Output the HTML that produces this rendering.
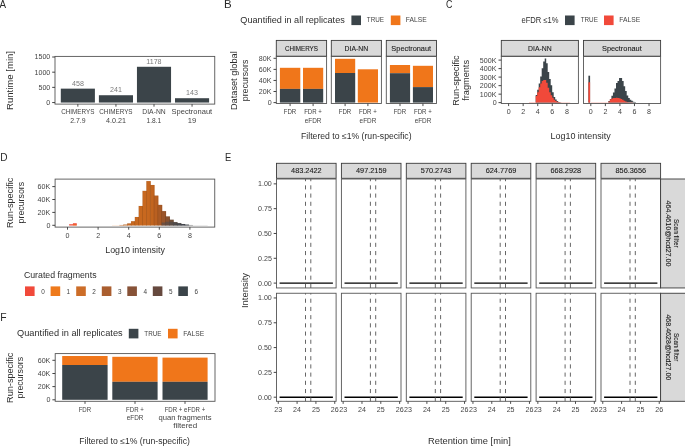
<!DOCTYPE html>
<html><head><meta charset="utf-8"><title>Figure</title>
<style>
html,body{margin:0;padding:0;background:#fff;width:685px;height:446px;overflow:hidden}
svg{display:block}
text{font-family:'Liberation Sans', Arial, sans-serif}
</style></head><body>
<svg width="685" height="446" viewBox="0 0 685 446">
<rect x="0" y="0" width="685" height="446" fill="#ffffff"/>
<text transform="translate(-0.52,7.80) scale(0.853,1)" font-size="11.5" fill="#2a2a2a">A</text>
<rect x="60.80" y="88.64" width="34.10" height="13.91" fill="#3b4449" />
<text transform="translate(72.02,85.88) scale(1.000,1)" font-size="7.1" fill="#7a7a7a" >458</text>
<rect x="98.90" y="95.23" width="34.10" height="7.32" fill="#3b4449" />
<text transform="translate(110.05,92.47) scale(1.000,1)" font-size="7.1" fill="#7a7a7a" >241</text>
<rect x="136.95" y="66.78" width="34.10" height="35.77" fill="#3b4449" />
<text transform="translate(146.28,64.02) scale(1.000,1)" font-size="7.1" fill="#7a7a7a" >1178</text>
<rect x="175.00" y="98.21" width="34.10" height="4.34" fill="#3b4449" />
<text transform="translate(186.03,95.45) scale(1.000,1)" font-size="7.1" fill="#7a7a7a" >143</text>
<rect x="55.00" y="56.40" width="159.75" height="47.70" fill="none" stroke="#555555" stroke-width="0.9" />
<line x1="52.20" y1="102.55" x2="55.00" y2="102.55" stroke="#3a3a3a" stroke-width="0.95" />
<text transform="translate(46.35,104.99) scale(1.000,1)" font-size="7.1" fill="#444444" >0</text>
<line x1="52.20" y1="87.37" x2="55.00" y2="87.37" stroke="#3a3a3a" stroke-width="0.95" />
<text transform="translate(38.45,89.81) scale(1.000,1)" font-size="7.1" fill="#444444" >500</text>
<line x1="52.20" y1="72.18" x2="55.00" y2="72.18" stroke="#3a3a3a" stroke-width="0.95" />
<text transform="translate(34.50,74.63) scale(1.000,1)" font-size="7.1" fill="#444444" >1000</text>
<line x1="52.20" y1="57.00" x2="55.00" y2="57.00" stroke="#3a3a3a" stroke-width="0.95" />
<text transform="translate(34.50,59.44) scale(1.000,1)" font-size="7.1" fill="#444444" >1500</text>
<line x1="77.85" y1="104.10" x2="77.85" y2="106.70" stroke="#3a3a3a" stroke-width="0.9" />
<text transform="translate(61.19,114.24) scale(0.893,1)" font-size="7.1" fill="#444444" >CHIMERYS</text>
<text transform="translate(70.16,122.74) scale(0.977,1)" font-size="7.1" fill="#444444" >2.7.9</text>
<line x1="115.95" y1="104.10" x2="115.95" y2="106.70" stroke="#3a3a3a" stroke-width="0.9" />
<text transform="translate(99.29,114.24) scale(0.893,1)" font-size="7.1" fill="#444444" >CHIMERYS</text>
<text transform="translate(106.10,122.74) scale(1.010,1)" font-size="7.1" fill="#444444" >4.0.21</text>
<line x1="154.00" y1="104.10" x2="154.00" y2="106.70" stroke="#3a3a3a" stroke-width="0.9" />
<text transform="translate(142.33,114.24) scale(0.955,1)" font-size="7.1" fill="#444444" >DIA-NN</text>
<text transform="translate(146.59,122.74) scale(0.929,1)" font-size="7.1" fill="#444444" >1.8.1</text>
<line x1="192.05" y1="104.10" x2="192.05" y2="106.70" stroke="#3a3a3a" stroke-width="0.9" />
<text transform="translate(171.58,114.24) scale(1.062,1)" font-size="7.1" fill="#444444" >Spectronaut</text>
<text transform="translate(187.71,122.74) scale(1.079,1)" font-size="7.1" fill="#444444" >19</text>
<text transform="translate(12.79,109.90) rotate(-90) scale(1.137,1)" font-size="8.4" fill="#2e2e2e" >Runtime [min]</text>
<text transform="translate(223.90,8.00) scale(1.000,1)" font-size="11.5" fill="#2a2a2a">B</text>
<text transform="translate(240.32,22.89) scale(1.087,1)" font-size="8.4" fill="#2e2e2e" >Quantified in all replicates</text>
<rect x="351.40" y="15.50" width="9.60" height="9.60" fill="#3b4449" />
<text transform="translate(366.85,22.10) scale(0.988,1)" font-size="6.4" fill="#444444" >TRUE</text>
<rect x="390.80" y="15.50" width="9.60" height="9.60" fill="#f0761a" />
<text transform="translate(405.78,22.10) scale(1.047,1)" font-size="6.4" fill="#444444" >FALSE</text>
<rect x="276.30" y="40.40" width="50.30" height="15.90" fill="#d9d9d9" stroke="#3a3a3a" stroke-width="0.9" />
<text transform="translate(284.88,50.97) scale(0.798,1)" font-size="7.9" fill="#1a1a1a" stroke="#1a1a1a" stroke-width="0.1">CHIMERYS</text>
<rect x="279.90" y="67.80" width="20.40" height="21.10" fill="#f0761a" />
<rect x="279.90" y="88.90" width="20.40" height="13.70" fill="#3b4449" />
<rect x="303.00" y="67.80" width="20.20" height="21.10" fill="#f0761a" />
<rect x="303.00" y="88.90" width="20.20" height="13.70" fill="#3b4449" />
<rect x="276.30" y="56.30" width="50.30" height="47.20" fill="none" stroke="#555555" stroke-width="0.9" />
<line x1="290.10" y1="103.50" x2="290.10" y2="106.10" stroke="#3a3a3a" stroke-width="0.9" />
<text transform="translate(283.73,114.24) scale(0.860,1)" font-size="7.1" fill="#444444" >FDR</text>
<line x1="313.10" y1="103.50" x2="313.10" y2="106.10" stroke="#3a3a3a" stroke-width="0.9" />
<text transform="translate(304.14,114.24) scale(0.858,1)" font-size="7.1" fill="#444444" >FDR +</text>
<text transform="translate(304.78,122.74) scale(0.902,1)" font-size="7.1" fill="#444444" >eFDR</text>
<rect x="331.30" y="40.40" width="50.10" height="15.90" fill="#d9d9d9" stroke="#3a3a3a" stroke-width="0.9" />
<text transform="translate(344.59,50.97) scale(0.867,1)" font-size="7.9" fill="#1a1a1a" stroke="#1a1a1a" stroke-width="0.1">DIA-NN</text>
<rect x="335.00" y="58.80" width="20.20" height="14.20" fill="#f0761a" />
<rect x="335.00" y="73.00" width="20.20" height="29.60" fill="#3b4449" />
<rect x="357.80" y="69.30" width="20.20" height="33.30" fill="#f0761a" />
<rect x="331.30" y="56.30" width="50.10" height="47.20" fill="none" stroke="#555555" stroke-width="0.9" />
<line x1="345.10" y1="103.50" x2="345.10" y2="106.10" stroke="#3a3a3a" stroke-width="0.9" />
<text transform="translate(338.73,114.24) scale(0.860,1)" font-size="7.1" fill="#444444" >FDR</text>
<line x1="367.90" y1="103.50" x2="367.90" y2="106.10" stroke="#3a3a3a" stroke-width="0.9" />
<text transform="translate(358.94,114.24) scale(0.858,1)" font-size="7.1" fill="#444444" >FDR +</text>
<text transform="translate(359.58,122.74) scale(0.902,1)" font-size="7.1" fill="#444444" >eFDR</text>
<rect x="386.30" y="40.40" width="50.20" height="15.90" fill="#d9d9d9" stroke="#3a3a3a" stroke-width="0.9" />
<text transform="translate(391.37,50.97) scale(0.935,1)" font-size="7.9" fill="#1a1a1a" stroke="#1a1a1a" stroke-width="0.1">Spectronaut</text>
<rect x="389.90" y="65.00" width="20.20" height="8.20" fill="#f0761a" />
<rect x="389.90" y="73.20" width="20.20" height="29.40" fill="#3b4449" />
<rect x="412.90" y="65.80" width="20.10" height="21.30" fill="#f0761a" />
<rect x="412.90" y="87.10" width="20.10" height="15.50" fill="#3b4449" />
<rect x="386.30" y="56.30" width="50.20" height="47.20" fill="none" stroke="#555555" stroke-width="0.9" />
<line x1="400.00" y1="103.50" x2="400.00" y2="106.10" stroke="#3a3a3a" stroke-width="0.9" />
<text transform="translate(393.63,114.24) scale(0.860,1)" font-size="7.1" fill="#444444" >FDR</text>
<line x1="422.95" y1="103.50" x2="422.95" y2="106.10" stroke="#3a3a3a" stroke-width="0.9" />
<text transform="translate(413.99,114.24) scale(0.858,1)" font-size="7.1" fill="#444444" >FDR +</text>
<text transform="translate(414.63,122.74) scale(0.902,1)" font-size="7.1" fill="#444444" >eFDR</text>
<line x1="273.50" y1="102.60" x2="276.30" y2="102.60" stroke="#3a3a3a" stroke-width="0.95" />
<text transform="translate(267.65,105.04) scale(1.000,1)" font-size="7.1" fill="#444444" >0</text>
<line x1="273.50" y1="91.50" x2="276.30" y2="91.50" stroke="#3a3a3a" stroke-width="0.95" />
<text transform="translate(258.80,93.94) scale(1.000,1)" font-size="7.1" fill="#444444" >20K</text>
<line x1="273.50" y1="80.45" x2="276.30" y2="80.45" stroke="#3a3a3a" stroke-width="0.95" />
<text transform="translate(258.80,82.89) scale(1.000,1)" font-size="7.1" fill="#444444" >40K</text>
<line x1="273.50" y1="69.40" x2="276.30" y2="69.40" stroke="#3a3a3a" stroke-width="0.95" />
<text transform="translate(258.80,71.84) scale(1.000,1)" font-size="7.1" fill="#444444" >60K</text>
<line x1="273.50" y1="58.30" x2="276.30" y2="58.30" stroke="#3a3a3a" stroke-width="0.95" />
<text transform="translate(258.80,60.74) scale(1.000,1)" font-size="7.1" fill="#444444" >80K</text>
<text transform="translate(301.03,138.69) scale(1.033,1)" font-size="8.4" fill="#2e2e2e" >Filtered to ≤1% (run-specific)</text>
<text transform="translate(237.19,110.02) rotate(-90) scale(1.094,1)" font-size="8.4" fill="#2e2e2e" >Dataset global</text>
<text transform="translate(247.79,101.23) rotate(-90) scale(1.049,1)" font-size="8.4" fill="#2e2e2e" >precursors</text>
<text transform="translate(446.05,7.85) scale(0.770,1)" font-size="11.5" fill="#2a2a2a">C</text>
<text transform="translate(521.43,22.69) scale(0.906,1)" font-size="8.4" fill="#2e2e2e" >eFDR ≤1%</text>
<rect x="565.00" y="15.50" width="9.60" height="9.60" fill="#3b4449" />
<text transform="translate(580.65,22.10) scale(0.988,1)" font-size="6.4" fill="#444444" >TRUE</text>
<rect x="604.00" y="15.50" width="9.60" height="9.60" fill="#f1493a" />
<text transform="translate(619.28,22.10) scale(1.047,1)" font-size="6.4" fill="#444444" >FALSE</text>
<rect x="501.30" y="40.40" width="77.10" height="15.90" fill="#d9d9d9" stroke="#3a3a3a" stroke-width="0.9" />
<text transform="translate(528.09,50.97) scale(0.867,1)" font-size="7.9" fill="#1a1a1a" stroke="#1a1a1a" stroke-width="0.1">DIA-NN</text>
<rect x="583.50" y="40.40" width="77.10" height="15.90" fill="#d9d9d9" stroke="#3a3a3a" stroke-width="0.9" />
<text transform="translate(602.02,50.97) scale(0.935,1)" font-size="7.9" fill="#1a1a1a" stroke="#1a1a1a" stroke-width="0.1">Spectronaut</text>
<path d="M535.70,102.60 L535.70,95.00 L537.20,95.00 L537.20,89.70 L538.70,89.70 L538.70,83.40 L540.20,83.40 L540.20,76.50 L541.70,76.50 L541.70,68.30 L543.20,68.30 L543.20,61.40 L544.70,61.40 L544.70,58.50 L546.20,58.50 L546.20,63.30 L547.70,63.30 L547.70,72.10 L549.20,72.10 L549.20,79.00 L550.70,79.00 L550.70,85.30 L552.20,85.30 L552.20,92.20 L553.70,92.20 L553.70,97.00 L555.20,97.00 L555.20,99.50 L556.70,99.50 L556.70,101.00 L558.20,101.00 L558.20,101.90 L559.70,101.90 L559.70,102.20 L561.20,102.20 L561.20,102.60 Z" fill="#3b4449"/>
<path d="M529.00,102.60 L529.00,102.20 L530.50,102.20 L530.50,102.20 L532.00,102.20 L532.00,102.20 L533.50,102.20 L533.50,102.20 L535.00,102.20 L535.00,102.20 L536.50,102.20 L536.50,102.60 Z" fill="#f1493a" opacity="0.6"/>
<path d="M535.70,102.60 L535.70,96.00 L537.20,96.00 L537.20,92.20 L538.70,92.20 L538.70,87.20 L540.20,87.20 L540.20,83.60 L541.70,83.60 L541.70,81.10 L543.20,81.10 L543.20,79.90 L544.70,79.90 L544.70,79.90 L546.20,79.90 L546.20,82.80 L547.70,82.80 L547.70,87.80 L549.20,87.80 L549.20,92.20 L550.70,92.20 L550.70,95.30 L552.20,95.30 L552.20,97.80 L553.70,97.80 L553.70,99.70 L555.20,99.70 L555.20,101.00 L556.70,101.00 L556.70,101.70 L558.20,101.70 L558.20,102.10 L559.70,102.10 L559.70,102.20 L561.20,102.20 L561.20,102.60 Z" fill="#f1493a"/>
<path d="M561.20,102.60 L561.20,102.25 L562.70,102.25 L562.70,102.25 L564.20,102.25 L564.20,102.25 L565.70,102.25 L565.70,102.25 L567.20,102.25 L567.20,102.25 L568.70,102.25 L568.70,102.25 L570.20,102.25 L570.20,102.60 Z" fill="#f1493a" opacity="0.5"/>
<path d="M608.35,102.60 L608.35,101.10 L609.88,101.10 L609.88,98.90 L611.41,98.90 L611.41,95.80 L612.94,95.80 L612.94,92.60 L614.47,92.60 L614.47,88.40 L616.00,88.40 L616.00,83.10 L617.53,83.10 L617.53,80.90 L619.06,80.90 L619.06,78.10 L620.59,78.10 L620.59,78.10 L622.12,78.10 L622.12,80.90 L623.65,80.90 L623.65,86.20 L625.18,86.20 L625.18,91.00 L626.71,91.00 L626.71,95.40 L628.24,95.40 L628.24,97.90 L629.77,97.90 L629.77,99.80 L631.30,99.80 L631.30,100.80 L632.83,100.80 L632.83,101.70 L634.36,101.70 L634.36,102.10 L635.89,102.10 L635.89,102.60 Z" fill="#3b4449"/>
<path d="M608.35,102.60 L608.35,101.40 L609.88,101.40 L609.88,99.30 L611.41,99.30 L611.41,98.50 L612.94,98.50 L612.94,98.00 L614.47,98.00 L614.47,97.90 L616.00,97.90 L616.00,97.70 L617.53,97.70 L617.53,97.90 L619.06,97.90 L619.06,98.20 L620.59,98.20 L620.59,98.90 L622.12,98.90 L622.12,99.80 L623.65,99.80 L623.65,100.70 L625.18,100.70 L625.18,101.40 L626.71,101.40 L626.71,101.90 L628.24,101.90 L628.24,102.20 L629.77,102.20 L629.77,102.20 L631.30,102.20 L631.30,102.30 L632.83,102.30 L632.83,102.40 L634.36,102.40 L634.36,102.40 L635.89,102.40 L635.89,102.60 Z" fill="#f1493a"/>
<path d="M591.00,102.60 L591.00,102.30 L592.53,102.30 L592.53,102.30 L594.06,102.30 L594.06,102.30 L595.59,102.30 L595.59,102.30 L597.12,102.30 L597.12,102.30 L598.65,102.30 L598.65,102.30 L600.18,102.30 L600.18,102.30 L601.71,102.30 L601.71,102.30 L603.24,102.30 L603.24,102.30 L604.77,102.30 L604.77,102.30 L606.30,102.30 L606.30,102.30 L607.83,102.30 L607.83,102.60 Z" fill="#f1493a" opacity="0.6"/>
<rect x="588.4" y="75.7" width="1.7" height="26.90" fill="#3b4449"/>
<rect x="588.4" y="82.3" width="1.7" height="20.30" fill="#f1493a"/>
<rect x="501.30" y="56.30" width="77.10" height="47.20" fill="none" stroke="#555555" stroke-width="0.9" />
<line x1="508.60" y1="103.50" x2="508.60" y2="106.10" stroke="#3a3a3a" stroke-width="0.9" />
<text transform="translate(506.65,114.24) scale(1.000,1)" font-size="7.1" fill="#444444" >0</text>
<line x1="523.16" y1="103.50" x2="523.16" y2="106.10" stroke="#3a3a3a" stroke-width="0.9" />
<text transform="translate(521.21,114.24) scale(1.000,1)" font-size="7.1" fill="#444444" >2</text>
<line x1="537.72" y1="103.50" x2="537.72" y2="106.10" stroke="#3a3a3a" stroke-width="0.9" />
<text transform="translate(535.80,114.24) scale(1.000,1)" font-size="7.1" fill="#444444" >4</text>
<line x1="552.28" y1="103.50" x2="552.28" y2="106.10" stroke="#3a3a3a" stroke-width="0.9" />
<text transform="translate(550.30,114.24) scale(1.000,1)" font-size="7.1" fill="#444444" >6</text>
<line x1="566.84" y1="103.50" x2="566.84" y2="106.10" stroke="#3a3a3a" stroke-width="0.9" />
<text transform="translate(564.89,114.24) scale(1.000,1)" font-size="7.1" fill="#444444" >8</text>
<rect x="583.50" y="56.30" width="77.10" height="47.20" fill="none" stroke="#555555" stroke-width="0.9" />
<line x1="590.80" y1="103.50" x2="590.80" y2="106.10" stroke="#3a3a3a" stroke-width="0.9" />
<text transform="translate(588.85,114.24) scale(1.000,1)" font-size="7.1" fill="#444444" >0</text>
<line x1="605.36" y1="103.50" x2="605.36" y2="106.10" stroke="#3a3a3a" stroke-width="0.9" />
<text transform="translate(603.41,114.24) scale(1.000,1)" font-size="7.1" fill="#444444" >2</text>
<line x1="619.92" y1="103.50" x2="619.92" y2="106.10" stroke="#3a3a3a" stroke-width="0.9" />
<text transform="translate(618.00,114.24) scale(1.000,1)" font-size="7.1" fill="#444444" >4</text>
<line x1="634.48" y1="103.50" x2="634.48" y2="106.10" stroke="#3a3a3a" stroke-width="0.9" />
<text transform="translate(632.50,114.24) scale(1.000,1)" font-size="7.1" fill="#444444" >6</text>
<line x1="649.04" y1="103.50" x2="649.04" y2="106.10" stroke="#3a3a3a" stroke-width="0.9" />
<text transform="translate(647.09,114.24) scale(1.000,1)" font-size="7.1" fill="#444444" >8</text>
<line x1="498.50" y1="102.60" x2="501.30" y2="102.60" stroke="#3a3a3a" stroke-width="0.95" />
<text transform="translate(492.65,105.04) scale(1.000,1)" font-size="7.1" fill="#444444" >0</text>
<line x1="498.50" y1="94.15" x2="501.30" y2="94.15" stroke="#3a3a3a" stroke-width="0.95" />
<text transform="translate(479.85,96.59) scale(1.000,1)" font-size="7.1" fill="#444444" >100K</text>
<line x1="498.50" y1="85.65" x2="501.30" y2="85.65" stroke="#3a3a3a" stroke-width="0.95" />
<text transform="translate(479.85,88.09) scale(1.000,1)" font-size="7.1" fill="#444444" >200K</text>
<line x1="498.50" y1="77.10" x2="501.30" y2="77.10" stroke="#3a3a3a" stroke-width="0.95" />
<text transform="translate(479.85,79.54) scale(1.000,1)" font-size="7.1" fill="#444444" >300K</text>
<line x1="498.50" y1="68.60" x2="501.30" y2="68.60" stroke="#3a3a3a" stroke-width="0.95" />
<text transform="translate(479.85,71.04) scale(1.000,1)" font-size="7.1" fill="#444444" >400K</text>
<line x1="498.50" y1="60.10" x2="501.30" y2="60.10" stroke="#3a3a3a" stroke-width="0.95" />
<text transform="translate(479.85,62.54) scale(1.000,1)" font-size="7.1" fill="#444444" >500K</text>
<text transform="translate(550.50,138.69) scale(1.067,1)" font-size="8.4" fill="#2e2e2e" >Log10 intensity</text>
<text transform="translate(458.89,105.66) rotate(-90) scale(1.090,1)" font-size="8.4" fill="#2e2e2e" >Run-specific</text>
<text transform="translate(469.19,100.76) rotate(-90) scale(1.092,1)" font-size="8.4" fill="#2e2e2e" >fragments</text>
<text transform="translate(0.17,161.00) scale(0.880,1)" font-size="11.5" fill="#2a2a2a">D</text>
<rect x="119.54" y="225.00" width="4.43" height="0.50" fill="#e08a4a"/>
<rect x="123.37" y="224.50" width="4.43" height="1.00" fill="#d27a34"/>
<rect x="127.20" y="223.40" width="4.43" height="2.10" fill="#c96a24"/>
<rect x="131.03" y="221.20" width="4.43" height="4.30" fill="#c8681f"/>
<rect x="134.86" y="217.00" width="4.43" height="8.50" fill="#c8681f"/>
<rect x="138.69" y="206.00" width="4.43" height="19.50" fill="#c8681f"/>
<rect x="142.52" y="190.90" width="4.43" height="34.60" fill="#c8681f"/>
<rect x="146.35" y="181.10" width="4.43" height="44.40" fill="#c6671f"/>
<rect x="150.18" y="185.00" width="4.43" height="40.50" fill="#c2651f"/>
<rect x="154.01" y="195.60" width="4.43" height="29.90" fill="#b96021"/>
<rect x="157.84" y="204.90" width="4.43" height="20.60" fill="#aa5a25"/>
<rect x="161.67" y="211.10" width="4.43" height="14.40" fill="#9a552a"/>
<rect x="165.50" y="216.40" width="4.43" height="9.10" fill="#88512f"/>
<rect x="169.33" y="219.70" width="4.43" height="5.80" fill="#745036"/>
<rect x="173.16" y="222.10" width="4.43" height="3.40" fill="#5f4d3f"/>
<rect x="176.99" y="223.10" width="4.43" height="2.40" fill="#524c47"/>
<rect x="180.82" y="224.00" width="4.43" height="1.50" fill="#4c4b4c"/>
<rect x="184.65" y="224.60" width="4.43" height="0.90" fill="#5a5a5a"/>
<rect x="188.48" y="225.00" width="4.43" height="0.50" fill="#8a8a8a"/>
<rect x="119.54" y="225.00" width="3.83" height="0.50" fill="none" stroke="#000" stroke-opacity="0.10" stroke-width="0.5"/>
<rect x="123.37" y="224.50" width="3.83" height="1.00" fill="none" stroke="#000" stroke-opacity="0.10" stroke-width="0.5"/>
<rect x="127.20" y="223.40" width="3.83" height="2.10" fill="none" stroke="#000" stroke-opacity="0.10" stroke-width="0.5"/>
<rect x="131.03" y="221.20" width="3.83" height="4.30" fill="none" stroke="#000" stroke-opacity="0.10" stroke-width="0.5"/>
<rect x="134.86" y="217.00" width="3.83" height="8.50" fill="none" stroke="#000" stroke-opacity="0.10" stroke-width="0.5"/>
<rect x="138.69" y="206.00" width="3.83" height="19.50" fill="none" stroke="#000" stroke-opacity="0.10" stroke-width="0.5"/>
<rect x="142.52" y="190.90" width="3.83" height="34.60" fill="none" stroke="#000" stroke-opacity="0.10" stroke-width="0.5"/>
<rect x="146.35" y="181.10" width="3.83" height="44.40" fill="none" stroke="#000" stroke-opacity="0.10" stroke-width="0.5"/>
<rect x="150.18" y="185.00" width="3.83" height="40.50" fill="none" stroke="#000" stroke-opacity="0.10" stroke-width="0.5"/>
<rect x="154.01" y="195.60" width="3.83" height="29.90" fill="none" stroke="#000" stroke-opacity="0.10" stroke-width="0.5"/>
<rect x="157.84" y="204.90" width="3.83" height="20.60" fill="none" stroke="#000" stroke-opacity="0.10" stroke-width="0.5"/>
<rect x="161.67" y="211.10" width="3.83" height="14.40" fill="none" stroke="#000" stroke-opacity="0.10" stroke-width="0.5"/>
<rect x="165.50" y="216.40" width="3.83" height="9.10" fill="none" stroke="#000" stroke-opacity="0.10" stroke-width="0.5"/>
<rect x="169.33" y="219.70" width="3.83" height="5.80" fill="none" stroke="#000" stroke-opacity="0.10" stroke-width="0.5"/>
<rect x="173.16" y="222.10" width="3.83" height="3.40" fill="none" stroke="#000" stroke-opacity="0.10" stroke-width="0.5"/>
<rect x="176.99" y="223.10" width="3.83" height="2.40" fill="none" stroke="#000" stroke-opacity="0.10" stroke-width="0.5"/>
<rect x="180.82" y="224.00" width="3.83" height="1.50" fill="none" stroke="#000" stroke-opacity="0.10" stroke-width="0.5"/>
<rect x="184.65" y="224.60" width="3.83" height="0.90" fill="none" stroke="#000" stroke-opacity="0.10" stroke-width="0.5"/>
<rect x="188.48" y="225.00" width="3.83" height="0.50" fill="none" stroke="#000" stroke-opacity="0.10" stroke-width="0.5"/>
<path d="M161.67,225.50 L161.67,222.50 L165.50,222.50 L165.50,221.80 L169.33,221.80 L169.33,221.80 L173.16,221.80 L173.16,222.60 L176.99,222.60 L176.99,223.40 L180.82,223.40 L180.82,224.20 L184.65,224.20 L184.65,224.80 L188.48,224.80 L188.48,225.50 Z" fill="#3b4a58" opacity="0.45"/>
<path d="M112.00,225.50 L112.00,225.10 L115.83,225.10 L115.83,225.10 L119.66,225.10 L119.66,225.50 Z" fill="#ee7a1c" opacity="0.3"/>
<path d="M192.31,225.50 L192.31,225.10 L196.14,225.10 L196.14,225.10 L199.97,225.10 L199.97,225.10 L203.80,225.10 L203.80,225.10 L207.63,225.10 L207.63,225.50 Z" fill="#777777" opacity="0.35"/>
<path d="M69.10,225.50 L69.10,224.30 L72.93,224.30 L72.93,223.20 L76.76,223.20 L76.76,225.50 Z" fill="#f1493a"/>
<path d="M72.90,225.50 L72.90,224.20 L76.73,224.20 L76.73,225.50 Z" fill="#ee7a1c" opacity="0.6"/>
<rect x="55.10" y="179.10" width="159.65" height="48.00" fill="none" stroke="#555555" stroke-width="0.9" />
<line x1="52.30" y1="225.30" x2="55.10" y2="225.30" stroke="#3a3a3a" stroke-width="0.95" />
<text transform="translate(46.45,227.74) scale(1.000,1)" font-size="7.1" fill="#444444" >0</text>
<line x1="52.30" y1="212.40" x2="55.10" y2="212.40" stroke="#3a3a3a" stroke-width="0.95" />
<text transform="translate(37.60,214.84) scale(1.000,1)" font-size="7.1" fill="#444444" >20K</text>
<line x1="52.30" y1="199.50" x2="55.10" y2="199.50" stroke="#3a3a3a" stroke-width="0.95" />
<text transform="translate(37.60,201.94) scale(1.000,1)" font-size="7.1" fill="#444444" >40K</text>
<line x1="52.30" y1="186.60" x2="55.10" y2="186.60" stroke="#3a3a3a" stroke-width="0.95" />
<text transform="translate(37.60,189.04) scale(1.000,1)" font-size="7.1" fill="#444444" >60K</text>
<line x1="67.50" y1="227.10" x2="67.50" y2="229.70" stroke="#3a3a3a" stroke-width="0.9" />
<text transform="translate(65.55,237.74) scale(1.000,1)" font-size="7.1" fill="#444444" >0</text>
<line x1="98.10" y1="227.10" x2="98.10" y2="229.70" stroke="#3a3a3a" stroke-width="0.9" />
<text transform="translate(96.15,237.74) scale(1.000,1)" font-size="7.1" fill="#444444" >2</text>
<line x1="128.70" y1="227.10" x2="128.70" y2="229.70" stroke="#3a3a3a" stroke-width="0.9" />
<text transform="translate(126.77,237.74) scale(1.000,1)" font-size="7.1" fill="#444444" >4</text>
<line x1="159.30" y1="227.10" x2="159.30" y2="229.70" stroke="#3a3a3a" stroke-width="0.9" />
<text transform="translate(157.33,237.74) scale(1.000,1)" font-size="7.1" fill="#444444" >6</text>
<line x1="189.90" y1="227.10" x2="189.90" y2="229.70" stroke="#3a3a3a" stroke-width="0.9" />
<text transform="translate(187.95,237.74) scale(1.000,1)" font-size="7.1" fill="#444444" >8</text>
<text transform="translate(105.26,252.89) scale(1.058,1)" font-size="8.4" fill="#2e2e2e" >Log10 intensity</text>
<text transform="translate(13.39,227.91) rotate(-90) scale(1.090,1)" font-size="8.4" fill="#2e2e2e" >Run-specific</text>
<text transform="translate(23.69,223.43) rotate(-90) scale(1.049,1)" font-size="8.4" fill="#2e2e2e" >precursors</text>
<text transform="translate(23.88,278.39) scale(1.047,1)" font-size="8.4" fill="#2e2e2e" >Curated fragments</text>
<rect x="25.00" y="286.40" width="9.60" height="9.60" fill="#f1493a" />
<text transform="translate(41.15,293.50) scale(1.000,1)" font-size="6.4" fill="#444444" >0</text>
<rect x="50.60" y="286.40" width="9.60" height="9.60" fill="#ee7a1c" />
<text transform="translate(66.50,293.50) scale(1.000,1)" font-size="6.4" fill="#444444" >1</text>
<rect x="76.20" y="286.40" width="9.60" height="9.60" fill="#cc6d28" />
<text transform="translate(92.30,293.50) scale(1.000,1)" font-size="6.4" fill="#444444" >2</text>
<rect x="101.80" y="286.40" width="9.60" height="9.60" fill="#aa5e2f" />
<text transform="translate(117.95,293.50) scale(1.000,1)" font-size="6.4" fill="#444444" >3</text>
<rect x="127.30" y="286.40" width="9.60" height="9.60" fill="#875237" />
<text transform="translate(143.55,293.50) scale(1.000,1)" font-size="6.4" fill="#444444" >4</text>
<rect x="152.80" y="286.40" width="9.60" height="9.60" fill="#66493e" />
<text transform="translate(168.95,293.50) scale(1.000,1)" font-size="6.4" fill="#444444" >5</text>
<rect x="178.30" y="286.40" width="9.60" height="9.60" fill="#3b4449" />
<text transform="translate(194.40,293.50) scale(1.000,1)" font-size="6.4" fill="#444444" >6</text>
<text transform="translate(0.25,320.80) scale(0.900,1)" font-size="11.5" fill="#2a2a2a">F</text>
<text transform="translate(17.06,336.19) scale(1.100,1)" font-size="8.4" fill="#2e2e2e" >Quantified in all replicates</text>
<rect x="128.80" y="328.80" width="9.60" height="9.60" fill="#3b4449" />
<text transform="translate(144.35,335.60) scale(0.988,1)" font-size="6.4" fill="#444444" >TRUE</text>
<rect x="168.00" y="328.80" width="9.60" height="9.60" fill="#f0761a" />
<text transform="translate(183.28,335.60) scale(1.047,1)" font-size="6.4" fill="#444444" >FALSE</text>
<rect x="62.20" y="356.00" width="45.40" height="9.00" fill="#f0761a" />
<rect x="62.20" y="365.00" width="45.40" height="34.80" fill="#3b4449" />
<rect x="112.30" y="356.80" width="45.30" height="25.00" fill="#f0761a" />
<rect x="112.30" y="381.80" width="45.30" height="18.00" fill="#3b4449" />
<rect x="162.50" y="357.60" width="45.10" height="24.20" fill="#f0761a" />
<rect x="162.50" y="381.80" width="45.10" height="18.00" fill="#3b4449" />
<rect x="55.20" y="353.60" width="159.80" height="47.70" fill="none" stroke="#555555" stroke-width="0.9" />
<line x1="52.40" y1="399.80" x2="55.20" y2="399.80" stroke="#3a3a3a" stroke-width="0.95" />
<text transform="translate(46.55,402.24) scale(1.000,1)" font-size="7.1" fill="#444444" >0</text>
<line x1="52.40" y1="386.60" x2="55.20" y2="386.60" stroke="#3a3a3a" stroke-width="0.95" />
<text transform="translate(37.70,389.04) scale(1.000,1)" font-size="7.1" fill="#444444" >20K</text>
<line x1="52.40" y1="373.50" x2="55.20" y2="373.50" stroke="#3a3a3a" stroke-width="0.95" />
<text transform="translate(37.70,375.94) scale(1.000,1)" font-size="7.1" fill="#444444" >40K</text>
<line x1="52.40" y1="360.30" x2="55.20" y2="360.30" stroke="#3a3a3a" stroke-width="0.95" />
<text transform="translate(37.70,362.74) scale(1.000,1)" font-size="7.1" fill="#444444" >60K</text>
<line x1="85.00" y1="401.30" x2="85.00" y2="403.90" stroke="#3a3a3a" stroke-width="0.9" />
<text transform="translate(78.63,411.74) scale(0.860,1)" font-size="7.1" fill="#444444" >FDR</text>
<line x1="135.00" y1="401.30" x2="135.00" y2="403.90" stroke="#3a3a3a" stroke-width="0.9" />
<text transform="translate(126.04,411.74) scale(0.858,1)" font-size="7.1" fill="#444444" >FDR +</text>
<text transform="translate(126.68,419.94) scale(0.902,1)" font-size="7.1" fill="#444444" >eFDR</text>
<line x1="185.00" y1="401.30" x2="185.00" y2="403.90" stroke="#3a3a3a" stroke-width="0.9" />
<text transform="translate(164.64,411.74) scale(0.857,1)" font-size="7.1" fill="#444444" >FDR + eFDR +</text>
<text transform="translate(158.38,419.94) scale(1.079,1)" font-size="7.1" fill="#444444" >quan fragments</text>
<text transform="translate(173.19,428.14) scale(1.130,1)" font-size="7.1" fill="#444444" >filtered</text>
<text transform="translate(79.33,444.09) scale(1.033,1)" font-size="8.4" fill="#2e2e2e" >Filtered to ≤1% (run-specific)</text>
<text transform="translate(13.19,402.91) rotate(-90) scale(1.090,1)" font-size="8.4" fill="#2e2e2e" >Run-specific</text>
<text transform="translate(23.49,398.43) rotate(-90) scale(1.049,1)" font-size="8.4" fill="#2e2e2e" >precursors</text>
<text transform="translate(225.03,161.00) scale(0.820,1)" font-size="11.5" fill="#2a2a2a">E</text>
<rect x="276.50" y="163.30" width="59.60" height="15.00" fill="#d9d9d9" stroke="#3a3a3a" stroke-width="0.9" />
<text transform="translate(291.11,173.42) scale(0.929,1)" font-size="7.9" fill="#1a1a1a" stroke="#1a1a1a" stroke-width="0.1">483.2422</text>
<line x1="279.60" y1="283.10" x2="332.90" y2="283.10" stroke="#000000" stroke-width="1.4" />
<line x1="305.50" y1="287.95" x2="305.50" y2="179.00" stroke="#555555" stroke-width="0.9" stroke-dasharray="4.1 4.11"/>
<line x1="310.80" y1="287.95" x2="310.80" y2="179.00" stroke="#555555" stroke-width="0.9" stroke-dasharray="4.1 4.11"/>
<rect x="276.50" y="179.00" width="59.60" height="108.95" fill="none" stroke="#555555" stroke-width="0.9" />
<line x1="279.60" y1="397.20" x2="332.90" y2="397.20" stroke="#000000" stroke-width="1.4" />
<line x1="305.50" y1="401.30" x2="305.50" y2="293.25" stroke="#555555" stroke-width="0.9" stroke-dasharray="4.1 4.11"/>
<line x1="310.80" y1="401.30" x2="310.80" y2="293.25" stroke="#555555" stroke-width="0.9" stroke-dasharray="4.1 4.11"/>
<rect x="276.50" y="293.25" width="59.60" height="108.05" fill="none" stroke="#555555" stroke-width="0.9" />
<line x1="278.25" y1="401.30" x2="278.25" y2="403.90" stroke="#3a3a3a" stroke-width="0.9" />
<text transform="translate(274.30,411.74) scale(1.000,1)" font-size="7.1" fill="#444444" >23</text>
<line x1="297.08" y1="401.30" x2="297.08" y2="403.90" stroke="#3a3a3a" stroke-width="0.9" />
<text transform="translate(293.08,411.74) scale(1.000,1)" font-size="7.1" fill="#444444" >24</text>
<line x1="315.91" y1="401.30" x2="315.91" y2="403.90" stroke="#3a3a3a" stroke-width="0.9" />
<text transform="translate(311.96,411.74) scale(1.000,1)" font-size="7.1" fill="#444444" >25</text>
<line x1="334.74" y1="401.30" x2="334.74" y2="403.90" stroke="#3a3a3a" stroke-width="0.9" />
<text transform="translate(330.79,411.74) scale(1.000,1)" font-size="7.1" fill="#444444" >26</text>
<rect x="341.40" y="163.30" width="59.60" height="15.00" fill="#d9d9d9" stroke="#3a3a3a" stroke-width="0.9" />
<text transform="translate(356.01,173.42) scale(0.929,1)" font-size="7.9" fill="#1a1a1a" stroke="#1a1a1a" stroke-width="0.1">497.2159</text>
<line x1="344.50" y1="283.10" x2="397.80" y2="283.10" stroke="#000000" stroke-width="1.4" />
<line x1="370.40" y1="287.95" x2="370.40" y2="179.00" stroke="#555555" stroke-width="0.9" stroke-dasharray="4.1 4.11"/>
<line x1="375.70" y1="287.95" x2="375.70" y2="179.00" stroke="#555555" stroke-width="0.9" stroke-dasharray="4.1 4.11"/>
<rect x="341.40" y="179.00" width="59.60" height="108.95" fill="none" stroke="#555555" stroke-width="0.9" />
<line x1="344.50" y1="397.20" x2="397.80" y2="397.20" stroke="#000000" stroke-width="1.4" />
<line x1="370.40" y1="401.30" x2="370.40" y2="293.25" stroke="#555555" stroke-width="0.9" stroke-dasharray="4.1 4.11"/>
<line x1="375.70" y1="401.30" x2="375.70" y2="293.25" stroke="#555555" stroke-width="0.9" stroke-dasharray="4.1 4.11"/>
<rect x="341.40" y="293.25" width="59.60" height="108.05" fill="none" stroke="#555555" stroke-width="0.9" />
<line x1="343.15" y1="401.30" x2="343.15" y2="403.90" stroke="#3a3a3a" stroke-width="0.9" />
<text transform="translate(339.20,411.74) scale(1.000,1)" font-size="7.1" fill="#444444" >23</text>
<line x1="361.98" y1="401.30" x2="361.98" y2="403.90" stroke="#3a3a3a" stroke-width="0.9" />
<text transform="translate(357.98,411.74) scale(1.000,1)" font-size="7.1" fill="#444444" >24</text>
<line x1="380.81" y1="401.30" x2="380.81" y2="403.90" stroke="#3a3a3a" stroke-width="0.9" />
<text transform="translate(376.86,411.74) scale(1.000,1)" font-size="7.1" fill="#444444" >25</text>
<line x1="399.64" y1="401.30" x2="399.64" y2="403.90" stroke="#3a3a3a" stroke-width="0.9" />
<text transform="translate(395.69,411.74) scale(1.000,1)" font-size="7.1" fill="#444444" >26</text>
<rect x="406.30" y="163.30" width="59.60" height="15.00" fill="#d9d9d9" stroke="#3a3a3a" stroke-width="0.9" />
<text transform="translate(420.82,173.42) scale(0.930,1)" font-size="7.9" fill="#1a1a1a" stroke="#1a1a1a" stroke-width="0.1">570.2743</text>
<line x1="409.40" y1="283.10" x2="462.70" y2="283.10" stroke="#000000" stroke-width="1.4" />
<line x1="435.30" y1="287.95" x2="435.30" y2="179.00" stroke="#555555" stroke-width="0.9" stroke-dasharray="4.1 4.11"/>
<line x1="440.60" y1="287.95" x2="440.60" y2="179.00" stroke="#555555" stroke-width="0.9" stroke-dasharray="4.1 4.11"/>
<rect x="406.30" y="179.00" width="59.60" height="108.95" fill="none" stroke="#555555" stroke-width="0.9" />
<line x1="409.40" y1="397.20" x2="462.70" y2="397.20" stroke="#000000" stroke-width="1.4" />
<line x1="435.30" y1="401.30" x2="435.30" y2="293.25" stroke="#555555" stroke-width="0.9" stroke-dasharray="4.1 4.11"/>
<line x1="440.60" y1="401.30" x2="440.60" y2="293.25" stroke="#555555" stroke-width="0.9" stroke-dasharray="4.1 4.11"/>
<rect x="406.30" y="293.25" width="59.60" height="108.05" fill="none" stroke="#555555" stroke-width="0.9" />
<line x1="408.05" y1="401.30" x2="408.05" y2="403.90" stroke="#3a3a3a" stroke-width="0.9" />
<text transform="translate(404.10,411.74) scale(1.000,1)" font-size="7.1" fill="#444444" >23</text>
<line x1="426.88" y1="401.30" x2="426.88" y2="403.90" stroke="#3a3a3a" stroke-width="0.9" />
<text transform="translate(422.88,411.74) scale(1.000,1)" font-size="7.1" fill="#444444" >24</text>
<line x1="445.71" y1="401.30" x2="445.71" y2="403.90" stroke="#3a3a3a" stroke-width="0.9" />
<text transform="translate(441.76,411.74) scale(1.000,1)" font-size="7.1" fill="#444444" >25</text>
<line x1="464.54" y1="401.30" x2="464.54" y2="403.90" stroke="#3a3a3a" stroke-width="0.9" />
<text transform="translate(460.59,411.74) scale(1.000,1)" font-size="7.1" fill="#444444" >26</text>
<rect x="471.20" y="163.30" width="59.60" height="15.00" fill="#d9d9d9" stroke="#3a3a3a" stroke-width="0.9" />
<text transform="translate(485.63,173.42) scale(0.935,1)" font-size="7.9" fill="#1a1a1a" stroke="#1a1a1a" stroke-width="0.1">624.7769</text>
<line x1="474.30" y1="283.10" x2="527.60" y2="283.10" stroke="#000000" stroke-width="1.4" />
<line x1="500.20" y1="287.95" x2="500.20" y2="179.00" stroke="#555555" stroke-width="0.9" stroke-dasharray="4.1 4.11"/>
<line x1="505.50" y1="287.95" x2="505.50" y2="179.00" stroke="#555555" stroke-width="0.9" stroke-dasharray="4.1 4.11"/>
<rect x="471.20" y="179.00" width="59.60" height="108.95" fill="none" stroke="#555555" stroke-width="0.9" />
<line x1="474.30" y1="397.20" x2="527.60" y2="397.20" stroke="#000000" stroke-width="1.4" />
<line x1="500.20" y1="401.30" x2="500.20" y2="293.25" stroke="#555555" stroke-width="0.9" stroke-dasharray="4.1 4.11"/>
<line x1="505.50" y1="401.30" x2="505.50" y2="293.25" stroke="#555555" stroke-width="0.9" stroke-dasharray="4.1 4.11"/>
<rect x="471.20" y="293.25" width="59.60" height="108.05" fill="none" stroke="#555555" stroke-width="0.9" />
<line x1="472.95" y1="401.30" x2="472.95" y2="403.90" stroke="#3a3a3a" stroke-width="0.9" />
<text transform="translate(469.00,411.74) scale(1.000,1)" font-size="7.1" fill="#444444" >23</text>
<line x1="491.78" y1="401.30" x2="491.78" y2="403.90" stroke="#3a3a3a" stroke-width="0.9" />
<text transform="translate(487.78,411.74) scale(1.000,1)" font-size="7.1" fill="#444444" >24</text>
<line x1="510.61" y1="401.30" x2="510.61" y2="403.90" stroke="#3a3a3a" stroke-width="0.9" />
<text transform="translate(506.66,411.74) scale(1.000,1)" font-size="7.1" fill="#444444" >25</text>
<line x1="529.44" y1="401.30" x2="529.44" y2="403.90" stroke="#3a3a3a" stroke-width="0.9" />
<text transform="translate(525.49,411.74) scale(1.000,1)" font-size="7.1" fill="#444444" >26</text>
<rect x="536.10" y="163.30" width="59.60" height="15.00" fill="#d9d9d9" stroke="#3a3a3a" stroke-width="0.9" />
<text transform="translate(550.53,173.42) scale(0.933,1)" font-size="7.9" fill="#1a1a1a" stroke="#1a1a1a" stroke-width="0.1">668.2928</text>
<line x1="539.20" y1="283.10" x2="592.50" y2="283.10" stroke="#000000" stroke-width="1.4" />
<line x1="565.10" y1="287.95" x2="565.10" y2="179.00" stroke="#555555" stroke-width="0.9" stroke-dasharray="4.1 4.11"/>
<line x1="570.40" y1="287.95" x2="570.40" y2="179.00" stroke="#555555" stroke-width="0.9" stroke-dasharray="4.1 4.11"/>
<rect x="536.10" y="179.00" width="59.60" height="108.95" fill="none" stroke="#555555" stroke-width="0.9" />
<line x1="539.20" y1="397.20" x2="592.50" y2="397.20" stroke="#000000" stroke-width="1.4" />
<line x1="565.10" y1="401.30" x2="565.10" y2="293.25" stroke="#555555" stroke-width="0.9" stroke-dasharray="4.1 4.11"/>
<line x1="570.40" y1="401.30" x2="570.40" y2="293.25" stroke="#555555" stroke-width="0.9" stroke-dasharray="4.1 4.11"/>
<rect x="536.10" y="293.25" width="59.60" height="108.05" fill="none" stroke="#555555" stroke-width="0.9" />
<line x1="537.85" y1="401.30" x2="537.85" y2="403.90" stroke="#3a3a3a" stroke-width="0.9" />
<text transform="translate(533.90,411.74) scale(1.000,1)" font-size="7.1" fill="#444444" >23</text>
<line x1="556.68" y1="401.30" x2="556.68" y2="403.90" stroke="#3a3a3a" stroke-width="0.9" />
<text transform="translate(552.68,411.74) scale(1.000,1)" font-size="7.1" fill="#444444" >24</text>
<line x1="575.51" y1="401.30" x2="575.51" y2="403.90" stroke="#3a3a3a" stroke-width="0.9" />
<text transform="translate(571.56,411.74) scale(1.000,1)" font-size="7.1" fill="#444444" >25</text>
<line x1="594.34" y1="401.30" x2="594.34" y2="403.90" stroke="#3a3a3a" stroke-width="0.9" />
<text transform="translate(590.39,411.74) scale(1.000,1)" font-size="7.1" fill="#444444" >26</text>
<rect x="601.00" y="163.30" width="59.60" height="15.00" fill="#d9d9d9" stroke="#3a3a3a" stroke-width="0.9" />
<text transform="translate(615.47,173.42) scale(0.932,1)" font-size="7.9" fill="#1a1a1a" stroke="#1a1a1a" stroke-width="0.1">856.3656</text>
<line x1="604.10" y1="283.10" x2="657.40" y2="283.10" stroke="#000000" stroke-width="1.4" />
<line x1="630.00" y1="287.95" x2="630.00" y2="179.00" stroke="#555555" stroke-width="0.9" stroke-dasharray="4.1 4.11"/>
<line x1="635.30" y1="287.95" x2="635.30" y2="179.00" stroke="#555555" stroke-width="0.9" stroke-dasharray="4.1 4.11"/>
<rect x="601.00" y="179.00" width="59.60" height="108.95" fill="none" stroke="#555555" stroke-width="0.9" />
<line x1="604.10" y1="397.20" x2="657.40" y2="397.20" stroke="#000000" stroke-width="1.4" />
<line x1="630.00" y1="401.30" x2="630.00" y2="293.25" stroke="#555555" stroke-width="0.9" stroke-dasharray="4.1 4.11"/>
<line x1="635.30" y1="401.30" x2="635.30" y2="293.25" stroke="#555555" stroke-width="0.9" stroke-dasharray="4.1 4.11"/>
<rect x="601.00" y="293.25" width="59.60" height="108.05" fill="none" stroke="#555555" stroke-width="0.9" />
<line x1="602.75" y1="401.30" x2="602.75" y2="403.90" stroke="#3a3a3a" stroke-width="0.9" />
<text transform="translate(598.80,411.74) scale(1.000,1)" font-size="7.1" fill="#444444" >23</text>
<line x1="621.58" y1="401.30" x2="621.58" y2="403.90" stroke="#3a3a3a" stroke-width="0.9" />
<text transform="translate(617.58,411.74) scale(1.000,1)" font-size="7.1" fill="#444444" >24</text>
<line x1="640.41" y1="401.30" x2="640.41" y2="403.90" stroke="#3a3a3a" stroke-width="0.9" />
<text transform="translate(636.46,411.74) scale(1.000,1)" font-size="7.1" fill="#444444" >25</text>
<line x1="659.24" y1="401.30" x2="659.24" y2="403.90" stroke="#3a3a3a" stroke-width="0.9" />
<text transform="translate(655.29,411.74) scale(1.000,1)" font-size="7.1" fill="#444444" >26</text>
<rect x="660.60" y="179.00" width="29.40" height="108.95" fill="#d9d9d9" stroke="#3a3a3a" stroke-width="0.9" />
<text transform="translate(674.28,219.09) rotate(90) scale(0.815,1)" font-size="7.9" fill="#1a1a1a" stroke="#1a1a1a" stroke-width="0.1">Scan filter</text>
<text transform="translate(666.18,200.60) rotate(90) scale(0.897,1)" font-size="7.9" fill="#1a1a1a" stroke="#1a1a1a" stroke-width="0.1">464.4610@hcd27.00</text>
<line x1="273.70" y1="283.10" x2="276.50" y2="283.10" stroke="#3a3a3a" stroke-width="0.95" />
<text transform="translate(258.00,285.54) scale(1.000,1)" font-size="7.1" fill="#444444" >0.00</text>
<line x1="273.70" y1="258.29" x2="276.50" y2="258.29" stroke="#3a3a3a" stroke-width="0.95" />
<text transform="translate(258.05,260.73) scale(1.000,1)" font-size="7.1" fill="#444444" >0.25</text>
<line x1="273.70" y1="233.48" x2="276.50" y2="233.48" stroke="#3a3a3a" stroke-width="0.95" />
<text transform="translate(258.00,235.92) scale(1.000,1)" font-size="7.1" fill="#444444" >0.50</text>
<line x1="273.70" y1="208.67" x2="276.50" y2="208.67" stroke="#3a3a3a" stroke-width="0.95" />
<text transform="translate(258.05,211.11) scale(1.000,1)" font-size="7.1" fill="#444444" >0.75</text>
<line x1="273.70" y1="183.86" x2="276.50" y2="183.86" stroke="#3a3a3a" stroke-width="0.95" />
<text transform="translate(258.00,186.30) scale(1.000,1)" font-size="7.1" fill="#444444" >1.00</text>
<rect x="660.60" y="293.25" width="29.40" height="108.05" fill="#d9d9d9" stroke="#3a3a3a" stroke-width="0.9" />
<text transform="translate(674.28,332.89) rotate(90) scale(0.815,1)" font-size="7.9" fill="#1a1a1a" stroke="#1a1a1a" stroke-width="0.1">Scan filter</text>
<text transform="translate(666.18,314.40) rotate(90) scale(0.897,1)" font-size="7.9" fill="#1a1a1a" stroke="#1a1a1a" stroke-width="0.1">468.4628@hcd27.00</text>
<line x1="273.70" y1="397.20" x2="276.50" y2="397.20" stroke="#3a3a3a" stroke-width="0.95" />
<text transform="translate(258.00,399.64) scale(1.000,1)" font-size="7.1" fill="#444444" >0.00</text>
<line x1="273.70" y1="372.39" x2="276.50" y2="372.39" stroke="#3a3a3a" stroke-width="0.95" />
<text transform="translate(258.05,374.83) scale(1.000,1)" font-size="7.1" fill="#444444" >0.25</text>
<line x1="273.70" y1="347.58" x2="276.50" y2="347.58" stroke="#3a3a3a" stroke-width="0.95" />
<text transform="translate(258.00,350.02) scale(1.000,1)" font-size="7.1" fill="#444444" >0.50</text>
<line x1="273.70" y1="322.77" x2="276.50" y2="322.77" stroke="#3a3a3a" stroke-width="0.95" />
<text transform="translate(258.05,325.21) scale(1.000,1)" font-size="7.1" fill="#444444" >0.75</text>
<line x1="273.70" y1="297.96" x2="276.50" y2="297.96" stroke="#3a3a3a" stroke-width="0.95" />
<text transform="translate(258.00,300.40) scale(1.000,1)" font-size="7.1" fill="#444444" >1.00</text>
<text transform="translate(428.00,443.69) scale(1.108,1)" font-size="8.4" fill="#2e2e2e" >Retention time [min]</text>
<text transform="translate(247.89,308.09) rotate(-90) scale(1.125,1)" font-size="8.4" fill="#2e2e2e" >Intensity</text>
</svg>
</body></html>
